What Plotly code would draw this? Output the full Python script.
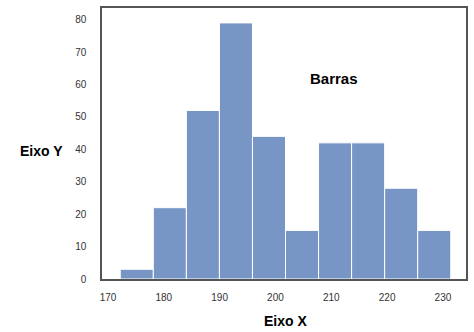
import plotly.graph_objects as go

# Histogram counts per bin
bin_start = 172.2
bin_width = 5.92
counts = [3, 22, 52, 79, 44, 15, 42, 42, 28, 15]

x_ticks = [170, 180, 190, 200, 210, 220, 230]
y_ticks = [0, 10, 20, 30, 40, 50, 60, 70, 80]

centers = [bin_start + bin_width * (i + 0.5) for i in range(len(counts))]

font_family = "Liberation Sans, Arial, sans-serif"

W, H = 474, 332
ML, MR, MT, MB = 102, 8, 6, 53
plot_w = W - ML - MR
plot_h = H - MT - MB


def px_to_paper(px, py):
    """Pixel position in the figure -> paper fractions."""
    return (px - ML) / plot_w, (H - MB - py) / plot_h


fig = go.Figure(
    go.Bar(
        x=centers,
        y=counts,
        width=bin_width,
        marker=dict(color="#7795c5", line=dict(color="white", width=1)),
        hoverinfo="x+y",
    )
)

ylab_x, ylab_y = px_to_paper(41, 150)
xlab_x, xlab_y = px_to_paper(285, 321)

fig.update_layout(
    width=W,
    height=H,
    margin=dict(l=ML, r=MR, t=MT, b=MB),
    paper_bgcolor="white",
    plot_bgcolor="white",
    showlegend=False,
    font=dict(family=font_family, color="#333333", size=10),
    xaxis=dict(
        range=[168.93, 234.13],
        tickvals=x_ticks,
        showgrid=False,
        zeroline=False,
        showline=True,
        mirror=True,
        linecolor="#555555",
        linewidth=1.5,
        ticks="",
        ticklabelstandoff=8,
        tickfont=dict(size=10, color="#333333"),
    ),
    yaxis=dict(
        range=[0, 83.6],
        tickvals=y_ticks,
        showgrid=False,
        zeroline=False,
        showline=True,
        mirror=True,
        linecolor="#555555",
        linewidth=1.5,
        ticks="",
        ticklabelstandoff=12,
        tickfont=dict(size=10, color="#333333"),
    ),
    annotations=[
        dict(
            text="<b>Barras</b>", x=210.4, y=61.8, xref="x", yref="y",
            xanchor="center", yanchor="middle",
            showarrow=False, font=dict(size=15, color="black", family=font_family),
        ),
        dict(
            text="<b>Eixo Y</b>", x=ylab_x, y=ylab_y, xref="paper", yref="paper",
            xanchor="center", yanchor="middle",
            showarrow=False, font=dict(size=14, color="black", family=font_family),
        ),
        dict(
            text="<b>Eixo X</b>", x=xlab_x, y=xlab_y, xref="paper", yref="paper",
            xanchor="center", yanchor="middle",
            showarrow=False, font=dict(size=14, color="black", family=font_family),
        ),
    ],
)

fig.write_html("out.html")
